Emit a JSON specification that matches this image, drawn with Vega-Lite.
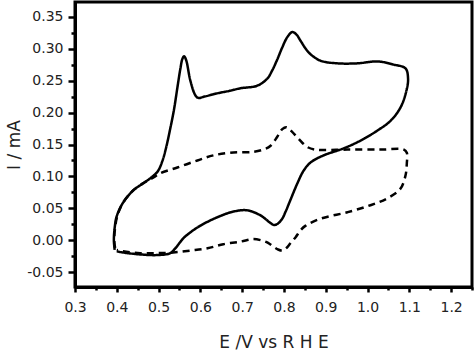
{
  "$schema": "https://vega.github.io/schema/vega-lite/v6.json",
  "width": 397,
  "height": 285,
  "autosize": {"type": "none"},
  "padding": {"left": 75, "top": 2, "right": 2, "bottom": 64},
  "background": "white",
  "config": {
    "view": {"stroke": "black", "strokeWidth": 3},
    "font": "DejaVu Sans",
    "axis": {
      "domainColor": "black", "domainWidth": 3, "tickColor": "black", "tickWidth": 2.5,
      "grid": false, "labelFont": "DejaVu Sans", "labelFontSize": 14, "labelColor": "#222",
      "titleFont": "DejaVu Sans", "titleFontSize": 17, "titleFontWeight": "normal", "titleColor": "#222"
    }
  },
  "data": {"values": [
    {"s":"solid","o":1,"E":0.395,"I":-0.015},{"s":"solid","o":2,"E":0.393,"I":0.0},{"s":"solid","o":3,"E":0.395,"I":0.02},
    {"s":"solid","o":4,"E":0.40,"I":0.038},{"s":"solid","o":5,"E":0.415,"I":0.059},{"s":"solid","o":6,"E":0.439,"I":0.078},
    {"s":"solid","o":7,"E":0.46,"I":0.088},{"s":"solid","o":8,"E":0.48,"I":0.097},{"s":"solid","o":9,"E":0.498,"I":0.108},
    {"s":"solid","o":10,"E":0.509,"I":0.124},{"s":"solid","o":11,"E":0.518,"I":0.145},{"s":"solid","o":12,"E":0.527,"I":0.172},
    {"s":"solid","o":13,"E":0.537,"I":0.205},{"s":"solid","o":14,"E":0.545,"I":0.239},{"s":"solid","o":15,"E":0.552,"I":0.268},
    {"s":"solid","o":16,"E":0.557,"I":0.284},{"s":"solid","o":17,"E":0.561,"I":0.288},{"s":"solid","o":18,"E":0.566,"I":0.282},
    {"s":"solid","o":19,"E":0.576,"I":0.25},{"s":"solid","o":20,"E":0.588,"I":0.227},{"s":"solid","o":21,"E":0.595,"I":0.223},
    {"s":"solid","o":22,"E":0.61,"I":0.225},{"s":"solid","o":23,"E":0.64,"I":0.23},{"s":"solid","o":24,"E":0.67,"I":0.234},
    {"s":"solid","o":25,"E":0.696,"I":0.238},{"s":"solid","o":26,"E":0.736,"I":0.242},{"s":"solid","o":27,"E":0.76,"I":0.253},
    {"s":"solid","o":28,"E":0.772,"I":0.266},{"s":"solid","o":29,"E":0.784,"I":0.283},{"s":"solid","o":30,"E":0.796,"I":0.302},
    {"s":"solid","o":31,"E":0.808,"I":0.318},{"s":"solid","o":32,"E":0.82,"I":0.326},{"s":"solid","o":33,"E":0.83,"I":0.322},
    {"s":"solid","o":34,"E":0.84,"I":0.312},{"s":"solid","o":35,"E":0.852,"I":0.3},{"s":"solid","o":36,"E":0.864,"I":0.291},
    {"s":"solid","o":37,"E":0.888,"I":0.281},{"s":"solid","o":38,"E":0.928,"I":0.277},{"s":"solid","o":39,"E":0.976,"I":0.277},
    {"s":"solid","o":40,"E":1.024,"I":0.28},{"s":"solid","o":41,"E":1.063,"I":0.275},{"s":"solid","o":42,"E":1.091,"I":0.269},
    {"s":"solid","o":43,"E":1.097,"I":0.253},{"s":"solid","o":44,"E":1.093,"I":0.234},{"s":"solid","o":45,"E":1.079,"I":0.208},
    {"s":"solid","o":46,"E":1.055,"I":0.187},{"s":"solid","o":47,"E":1.024,"I":0.172},{"s":"solid","o":48,"E":0.983,"I":0.156},
    {"s":"solid","o":49,"E":0.943,"I":0.144},{"s":"solid","o":50,"E":0.895,"I":0.133},{"s":"solid","o":51,"E":0.864,"I":0.122},
    {"s":"solid","o":52,"E":0.847,"I":0.109},{"s":"solid","o":53,"E":0.832,"I":0.089},{"s":"solid","o":54,"E":0.816,"I":0.064},
    {"s":"solid","o":55,"E":0.804,"I":0.045},{"s":"solid","o":56,"E":0.796,"I":0.034},{"s":"solid","o":57,"E":0.785,"I":0.026},
    {"s":"solid","o":58,"E":0.776,"I":0.024},{"s":"solid","o":59,"E":0.768,"I":0.027},{"s":"solid","o":60,"E":0.744,"I":0.039},
    {"s":"solid","o":61,"E":0.712,"I":0.047},{"s":"solid","o":62,"E":0.679,"I":0.045},{"s":"solid","o":63,"E":0.64,"I":0.036},
    {"s":"solid","o":64,"E":0.6,"I":0.023},{"s":"solid","o":65,"E":0.575,"I":0.012},{"s":"solid","o":66,"E":0.559,"I":0.003},
    {"s":"solid","o":67,"E":0.54,"I":-0.0125},{"s":"solid","o":68,"E":0.528,"I":-0.02},{"s":"solid","o":69,"E":0.497,"I":-0.023},
    {"s":"solid","o":70,"E":0.456,"I":-0.022},{"s":"solid","o":71,"E":0.415,"I":-0.019},{"s":"solid","o":72,"E":0.40,"I":-0.017},
    {"s":"dashed","o":1,"E":0.396,"I":-0.012},{"s":"dashed","o":2,"E":0.394,"I":0.0},{"s":"dashed","o":3,"E":0.396,"I":0.02},
    {"s":"dashed","o":4,"E":0.402,"I":0.04},{"s":"dashed","o":5,"E":0.415,"I":0.059},{"s":"dashed","o":6,"E":0.439,"I":0.078},
    {"s":"dashed","o":7,"E":0.465,"I":0.09},{"s":"dashed","o":8,"E":0.487,"I":0.098},{"s":"dashed","o":9,"E":0.504,"I":0.105},
    {"s":"dashed","o":10,"E":0.545,"I":0.114},{"s":"dashed","o":11,"E":0.593,"I":0.125},{"s":"dashed","o":12,"E":0.631,"I":0.133},
    {"s":"dashed","o":13,"E":0.679,"I":0.1375},{"s":"dashed","o":14,"E":0.727,"I":0.1385},{"s":"dashed","o":15,"E":0.755,"I":0.143},
    {"s":"dashed","o":16,"E":0.768,"I":0.148},{"s":"dashed","o":17,"E":0.784,"I":0.162},{"s":"dashed","o":18,"E":0.796,"I":0.174},
    {"s":"dashed","o":19,"E":0.806,"I":0.177},{"s":"dashed","o":20,"E":0.818,"I":0.171},{"s":"dashed","o":21,"E":0.832,"I":0.161},
    {"s":"dashed","o":22,"E":0.845,"I":0.152},{"s":"dashed","o":23,"E":0.856,"I":0.146},{"s":"dashed","o":24,"E":0.875,"I":0.142},
    {"s":"dashed","o":25,"E":0.952,"I":0.142},{"s":"dashed","o":26,"E":1.031,"I":0.142},{"s":"dashed","o":27,"E":1.087,"I":0.142},
    {"s":"dashed","o":28,"E":1.094,"I":0.137},{"s":"dashed","o":29,"E":1.094,"I":0.12},{"s":"dashed","o":30,"E":1.091,"I":0.102},
    {"s":"dashed","o":31,"E":1.079,"I":0.081},{"s":"dashed","o":32,"E":1.048,"I":0.066},{"s":"dashed","o":33,"E":1.007,"I":0.055},
    {"s":"dashed","o":34,"E":0.952,"I":0.044},{"s":"dashed","o":35,"E":0.888,"I":0.034},{"s":"dashed","o":36,"E":0.852,"I":0.023},
    {"s":"dashed","o":37,"E":0.84,"I":0.016},{"s":"dashed","o":38,"E":0.828,"I":0.005},{"s":"dashed","o":39,"E":0.816,"I":-0.004},
    {"s":"dashed","o":40,"E":0.806,"I":-0.012},{"s":"dashed","o":41,"E":0.796,"I":-0.016},{"s":"dashed","o":42,"E":0.785,"I":-0.014},
    {"s":"dashed","o":43,"E":0.775,"I":-0.01},{"s":"dashed","o":44,"E":0.762,"I":-0.004},{"s":"dashed","o":45,"E":0.751,"I":-0.001},
    {"s":"dashed","o":46,"E":0.727,"I":0.002},{"s":"dashed","o":47,"E":0.696,"I":-0.002},{"s":"dashed","o":48,"E":0.655,"I":-0.006},
    {"s":"dashed","o":49,"E":0.617,"I":-0.0125},{"s":"dashed","o":50,"E":0.576,"I":-0.016},{"s":"dashed","o":51,"E":0.535,"I":-0.019},
    {"s":"dashed","o":52,"E":0.497,"I":-0.02},{"s":"dashed","o":53,"E":0.456,"I":-0.02},{"s":"dashed","o":54,"E":0.415,"I":-0.017},
    {"s":"dashed","o":55,"E":0.40,"I":-0.015}
  ]},
  "layer": [
    {
      "mark": {"type": "line", "color": "black", "strokeWidth": 2.5, "interpolate": "catmull-rom", "clip": true},
      "encoding": {
        "x": {"field": "E", "type": "quantitative", "scale": {"domain": [0.3, 1.25], "nice": false, "zero": false},
          "axis": {"orient": "bottom", "title": "E  /V vs R H E", "values": [0.3,0.4,0.5,0.6,0.7,0.8,0.9,1.0,1.1,1.2], "format": ".1f",
            "tickSize": 5, "labelPadding": 8, "titlePadding": 20, "labelFlush": false}},
        "y": {"field": "I", "type": "quantitative", "scale": {"domain": [-0.073, 0.373], "nice": false, "zero": false},
          "axis": {"orient": "left", "title": "I / mA", "values": [-0.05,0,0.05,0.1,0.15,0.2,0.25,0.3,0.35],
            "labelExpr": "replace(format(datum.value, '.2f'), '\u2212', '-')",
            "tickSize": 7, "labelPadding": 5, "titlePadding": 3, "labelFlush": false}},
        "detail": {"field": "s"},
        "order": {"field": "o", "type": "quantitative"},
        "strokeDash": {"field": "s", "type": "nominal", "scale": {"domain": ["solid", "dashed"], "range": [[1, 0], [7, 5]]}, "legend": null}
      }
    },
    {
      "mark": {"type": "line", "strokeOpacity": 0, "clip": true},
      "encoding": {
        "x": {"field": "E", "type": "quantitative",
          "axis": {"orient": "bottom", "title": null, "labels": false, "domain": false, "tickSize": 3,
            "values": [0.35,0.45,0.55,0.65,0.75,0.85,0.95,1.05,1.15,1.25]}},
        "y": {"field": "I", "type": "quantitative",
          "axis": {"orient": "left", "title": null, "labels": false, "domain": false, "tickSize": 4,
            "values": [-0.075,-0.025,0.025,0.075,0.125,0.175,0.225,0.275,0.325]}},
        "detail": {"field": "s"},
        "order": {"field": "o", "type": "quantitative"}
      }
    }
  ],
  "resolve": {"axis": {"x": "independent", "y": "independent"}}
}
